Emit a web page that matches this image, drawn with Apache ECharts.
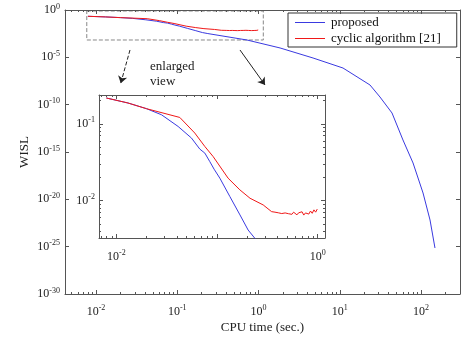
<!DOCTYPE html>
<html><head><meta charset="utf-8">
<script src="https://cdn.jsdelivr.net/npm/echarts@6/dist/echarts.min.js"></script>
<style>html,body{margin:0;padding:0;background:#fff}#c{width:474px;height:353px}</style>
</head><body><div id="c"></div>
<script>
// ---------------- DATA (log10 values) ----------------
const seriesNames = ['proposed', 'cyclic algorithm [21]'];

const proposedLogTime = [-2.100, -1.885, -1.701, -1.552, -1.387, -1.254, -1.171, -1.121, -1.072, -1.029, -0.972, -0.872, -0.772, -0.691, -0.624, -0.142, 0.265, 0.671, 1.040, 1.372, 1.495, 1.643, 1.778, 1.902, 2.025, 2.111, 2.172];
const proposedLogWISL = [-0.665, -0.730, -0.804, -0.883, -1.035, -1.186, -1.330, -1.382, -1.492, -1.591, -1.708, -1.948, -2.186, -2.382, -2.490, -3.170, -4.010, -5.070, -6.130, -7.920, -9.190, -10.880, -13.730, -16.160, -19.330, -22.180, -25.140];

const cyclicLogTime = [-2.100, -1.885, -1.701, -1.370, -1.221, -1.121, -1.039, -0.890, -0.773, -0.672, -0.541,
  -0.458, -0.441, -0.424, -0.408, -0.391, -0.374, -0.357, -0.340, -0.323, -0.307, -0.290, -0.273, -0.256, -0.239,
  -0.222, -0.206, -0.189, -0.172, -0.155, -0.138, -0.121, -0.105, -0.088, -0.071, -0.054, -0.037, -0.020, -0.004];
const cyclicLogWISL = [-0.665, -0.730, -0.804, -0.918, -1.121, -1.296, -1.426, -1.708, -1.860, -1.969, -2.056,
  -2.143, -2.165, -2.150, -2.175, -2.158, -2.145, -2.168, -2.190, -2.160, -2.148, -2.170, -2.155, -2.178, -2.150,
  -2.162, -2.185, -2.158, -2.170, -2.145, -2.188, -2.160, -2.140, -2.175, -2.135, -2.165, -2.120, -2.150, -2.110];

const mainXTickExps = [-2, -1, 0, 1, 2];
const mainYTickExps = [0, -5, -10, -15, -20, -25, -30];
const insetXTickExps = [-2, -1, 0];
const insetXLabelExps = [-2, 0];
const insetYTickExps = [-1, -2];

// ---------------- LAYOUT / STYLE ----------------
const FONT = 'Liberation Serif';
const AX = '#555';
const BLUE = '#3a3ae0';
const RED = '#f01818';
const mainRange = { xMin: -2.382, xMax: 2.48, yMin: -30, yMax: 0 };
const insetRange = { xMin: -2.173, xMax: 0.073, yMin: -2.486, yMax: -0.626 };
const zoomBox = [[-2.114, -0.106], [0.059, -3.169]];
const arrowDashed = [[-1.582, -4.225], [-1.696, -7.743]];
const arrowSolid = [[-0.228, -4.225], [0.080, -7.922]];

function minorTicks(lo, hi) {
  const out = [];
  for (let d = Math.floor(lo) - 1; d <= Math.ceil(hi); d++) {
    for (let k = 2; k <= 9; k++) { const v = d + Math.log10(k); if (v > lo && v < hi) out.push(v); }
  }
  return out;
}
const pow = v => '{b|10}{s|' + Math.round(v) + '}';
const rich = {
  b: { fontFamily: FONT, fontSize: 12, color: '#222' },
  s: { fontFamily: FONT, fontSize: 8, color: '#222', padding: [0, 0, 7, 0] }
};

function axis(o) {
  const a = {
    gridIndex: o.grid, type: 'value', position: o.pos, min: o.min, max: o.max, z: 4,
    axisLine: { show: !!o.line, onZero: false, lineStyle: { color: AX, width: 1 } },
    axisTick: { show: true, inside: true, length: o.len, customValues: o.ticks, lineStyle: { color: AX, width: 1 } },
    axisLabel: o.labels ? { show: true, customValues: o.labels, formatter: pow, rich: rich, margin: o.margin } : { show: false },
    splitLine: { show: false }
  };
  if (o.name) Object.assign(a, o.name);
  return a;
}

const mXMinor = minorTicks(mainRange.xMin, mainRange.xMax);
const iXMinor = minorTicks(insetRange.xMin, insetRange.xMax);
const iYMinor = minorTicks(insetRange.yMin, insetRange.yMax);
const nameStyle = { fontFamily: FONT, fontSize: 13, color: '#222' };

const xAxes = [
  axis({ grid: 0, pos: 'bottom', min: mainRange.xMin, max: mainRange.xMax, line: true, len: 4, ticks: mainXTickExps, labels: mainXTickExps, margin: 10,
    name: { name: 'CPU time (sec.)', nameLocation: 'middle', nameGap: 27, nameMoveOverlap: false, nameTextStyle: nameStyle } }),
  axis({ grid: 0, pos: 'bottom', min: mainRange.xMin, max: mainRange.xMax, len: 2, ticks: mXMinor }),
  axis({ grid: 0, pos: 'top', min: mainRange.xMin, max: mainRange.xMax, line: true, len: 4, ticks: mainXTickExps }),
  axis({ grid: 0, pos: 'top', min: mainRange.xMin, max: mainRange.xMax, len: 2, ticks: mXMinor }),
  axis({ grid: 1, pos: 'bottom', min: insetRange.xMin, max: insetRange.xMax, line: true, len: 4, ticks: insetXTickExps, labels: insetXLabelExps, margin: 11 }),
  axis({ grid: 1, pos: 'bottom', min: insetRange.xMin, max: insetRange.xMax, len: 2, ticks: iXMinor }),
  axis({ grid: 1, pos: 'top', min: insetRange.xMin, max: insetRange.xMax, line: true, len: 4, ticks: insetXTickExps }),
  axis({ grid: 1, pos: 'top', min: insetRange.xMin, max: insetRange.xMax, len: 2, ticks: iXMinor })
];
const yAxes = [
  axis({ grid: 0, pos: 'left', min: mainRange.yMin, max: mainRange.yMax, line: true, len: 4, ticks: mainYTickExps, labels: mainYTickExps, margin: 5,
    name: { name: 'WISL', nameLocation: 'middle', nameGap: 34, nameRotate: 90, nameMoveOverlap: false, nameTextStyle: nameStyle } }),
  axis({ grid: 0, pos: 'right', min: mainRange.yMin, max: mainRange.yMax, line: true, len: 4, ticks: mainYTickExps }),
  axis({ grid: 1, pos: 'left', min: insetRange.yMin, max: insetRange.yMax, line: true, len: 4, ticks: insetYTickExps, labels: insetYTickExps, margin: 4 }),
  axis({ grid: 1, pos: 'left', min: insetRange.yMin, max: insetRange.yMax, len: 2, ticks: iYMinor }),
  axis({ grid: 1, pos: 'right', min: insetRange.yMin, max: insetRange.yMax, line: true, len: 4, ticks: insetYTickExps }),
  axis({ grid: 1, pos: 'right', min: insetRange.yMin, max: insetRange.yMax, len: 2, ticks: iYMinor })
];

const zip = (a, b) => a.map((v, i) => [v, b[i]]);
const proposedData = zip(proposedLogTime, proposedLogWISL);
const cyclicData = zip(cyclicLogTime, cyclicLogWISL);

function line(name, data, color, xi, yi, extra) {
  return Object.assign({
    name, type: 'line', data, xAxisIndex: xi, yAxisIndex: yi, symbol: 'none', silent: true, color: color,
    lineStyle: { color, width: 1 }, itemStyle: { color }, animation: false, clip: true
  }, extra || {});
}

// legend swatch lines (drawn as graphics so they keep the series colours at 1px)
const legendBox = { left: 288, top: 13 };
const swatch = (y, color) => ({ type: 'line', silent: true, z: 200,
  shape: { x1: legendBox.left + 7, y1: y, x2: legendBox.left + 37, y2: y }, style: { stroke: color, lineWidth: 1 } });

const chart = echarts.init(document.getElementById('c'), null, { renderer: 'canvas' });
chart.setOption({
  animation: false,
  backgroundColor: '#fff',
  color: [BLUE, RED],
  grid: [
    { left: 65, top: 10, width: 395, height: 284, outerBoundsMode: 'none', containLabel: false },
    { left: 99, top: 95, width: 226, height: 143, outerBoundsMode: 'none', containLabel: false }
  ],
  xAxis: xAxes,
  yAxis: yAxes,
  legend: {
    data: seriesNames,
    left: legendBox.left, top: legendBox.top, orient: 'vertical', itemWidth: 30, itemHeight: 13, itemGap: 3,
    padding: [3, 16, 2, 7], backgroundColor: '#fff', borderColor: '#333', borderWidth: 1, borderRadius: 0,
    itemStyle: { opacity: 0 }, lineStyle: { opacity: 0 },
    textStyle: { fontFamily: FONT, fontSize: 13, color: '#111', lineHeight: 13 }, selectedMode: false
  },
  graphic: [
    { type: 'text', left: 150, top: 59, silent: true,
      style: { text: 'enlarged\nview', font: '13px "Liberation Serif"', lineHeight: 15, fill: '#222' } },
    swatch(22.5, BLUE),
    swatch(38.5, RED)
  ],
  series: [
    line(seriesNames[0], proposedData, BLUE, 0, 0, {
      markArea: { silent: true, label: { show: false },
        itemStyle: { color: 'rgba(0,0,0,0)', borderColor: '#888', borderWidth: 1, borderType: 'dashed' },
        data: [[{ coord: zoomBox[0] }, { coord: zoomBox[1] }]] },
      markLine: { silent: true, symbol: ['none', 'arrow'], symbolSize: 7, label: { show: false },
        lineStyle: { color: '#222', width: 1 },
        data: [
          [{ coord: arrowDashed[0], lineStyle: { type: 'dashed', color: '#222', width: 1 } }, { coord: arrowDashed[1] }],
          [{ coord: arrowSolid[0], lineStyle: { type: 'solid', color: '#222', width: 1 } }, { coord: arrowSolid[1] }]
        ] }
    }),
    line(seriesNames[1], cyclicData, RED, 0, 0),
    line(seriesNames[0], proposedData, BLUE, 4, 2, { z: 5 }),
    line(seriesNames[1], cyclicData, RED, 4, 2, { z: 5 })
  ]
});
</script>
</body></html>
